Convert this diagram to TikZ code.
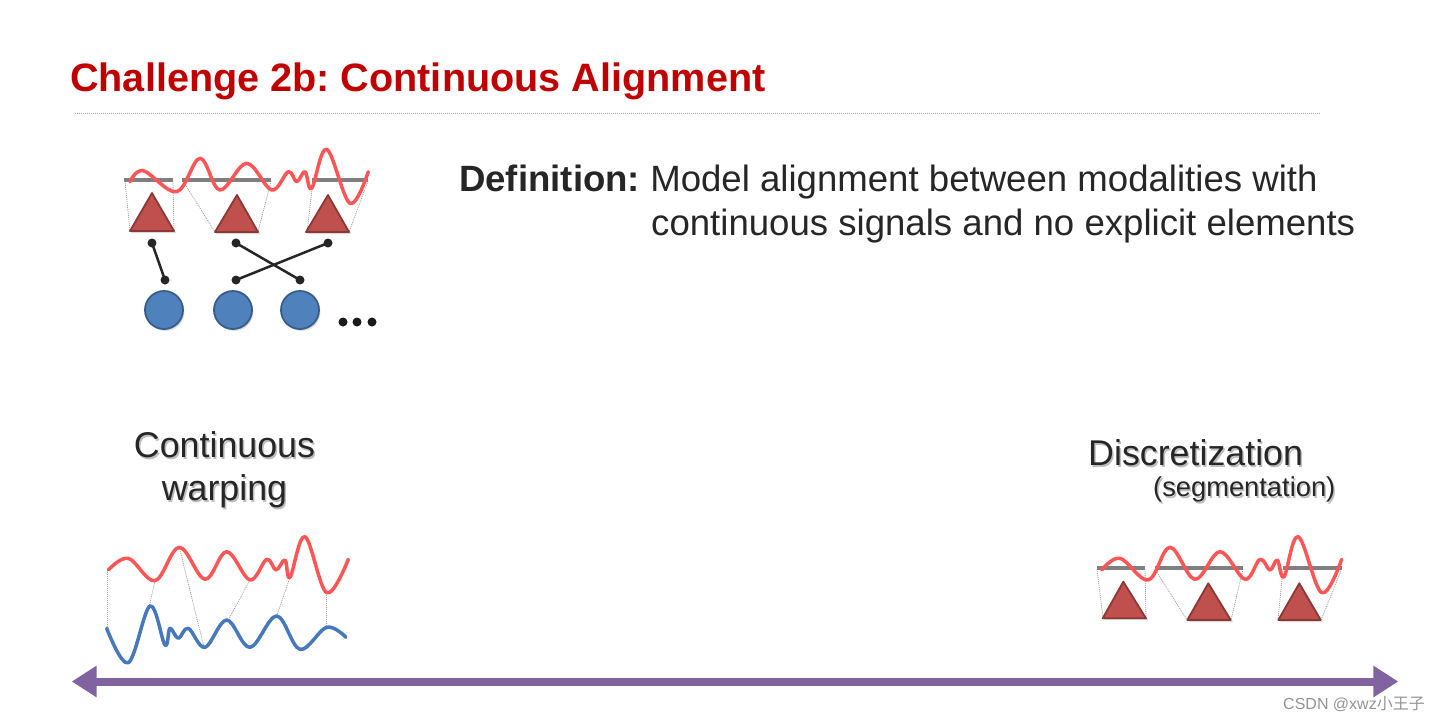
\documentclass[tikz,border=0pt]{standalone}
\usepackage{fontspec}
\setmainfont{Liberation Sans}
\newfontfamily\cjkfont{Noto Sans CJK SC}
\usetikzlibrary{arrows.meta,shadows}
\frenchspacing
\definecolor{titlered}{RGB}{192,0,0}
\definecolor{wavered}{RGB}{255,85,85}
\definecolor{waveblue}{RGB}{70,120,190}
\definecolor{trifill}{RGB}{192,80,77}
\definecolor{triline}{RGB}{140,56,54}
\definecolor{circfill}{RGB}{79,129,189}
\definecolor{circline}{RGB}{56,93,138}
\definecolor{barg}{RGB}{127,127,127}
\definecolor{arrowpurple}{RGB}{128,100,162}
\definecolor{textgray}{RGB}{38,38,38}
\definecolor{shadowgray}{RGB}{190,190,190}
\begin{document}
\begin{tikzpicture}[x=1pt,y=-1pt,
  wave/.style={line width=3.5pt, line cap=round, line join=round},
  redwave/.style={wave, draw=wavered},
  bluewave/.style={wave, draw=waveblue},
  segbar/.style={draw=barg, line width=4pt},
  guide/.style={draw=gray!75, line width=0.8pt, dash pattern=on 1pt off 1pt},
  tri/.style={fill=trifill, draw=triline, line width=1.8pt, line join=round},
  trishadow/.style={fill=black!15},
  mod/.style={circle, fill=circfill, draw=circline, line width=1.8pt, minimum size=38pt, inner sep=0pt,
    drop shadow={shadow xshift=1.5pt, shadow yshift=-2pt, fill=black!25}},
  link/.style={draw=black!85, line width=2.5pt},
  linkdot/.style={circle, fill=black!85, inner sep=0pt, minimum size=9pt},
  moredot/.style={circle, fill=black!90, inner sep=0pt, minimum size=9pt},
  bigtext/.style={font=\fontsize{35.8}{43.4}\selectfont, text=textgray, inner sep=0pt},
  bigshadow/.style={font=\fontsize{35.8}{43.4}\selectfont, text=shadowgray, inner sep=0pt},
  smalltext/.style={font=\fontsize{27.3}{32}\selectfont, text=textgray, inner sep=0pt, anchor=base west},
  smallshadow/.style={font=\fontsize{27.3}{32}\selectfont, text=shadowgray, inner sep=0pt, anchor=base west},
  deftext/.style={font=\fontsize{36.6}{43}\selectfont, text=textgray, inner sep=0pt, anchor=base west},
  titletext/.style={font=\fontsize{39.6}{48}\selectfont\bfseries, text=titlered, inner sep=0pt, anchor=base west},
  axis/.style={draw=arrowpurple, line width=8pt, {Triangle[length=25pt,width=30pt]}-{Triangle[length=25pt,width=30pt]}},
]
\useasboundingbox (0,0) rectangle (1441,721);

% ---------- title ----------
\node[titletext] (title) at (70,91) {Challenge 2b: Continuous Alignment};
\coordinate (sepL) at (75,113);
\coordinate (sepR) at (1320,113);
\draw[draw=gray!70, line width=1pt, dash pattern=on 1pt off 1pt] (sepL) -- (sepR);

% ---------- definition ----------
\node[deftext] (def1) at (459,191.5) {\textbf{Definition:} Model alignment between modalities with};
\node[deftext] (def2) at (651,235) {continuous signals and no explicit elements};

% ---------- top-left: segments, triangles, modalities ----------
\draw[guide] (125,181) -- (130,231);
\draw[guide] (173,181) -- (174,231);
\draw[guide] (183,181) -- (215,232);
\draw[guide] (271,181) -- (258,232);
\draw[guide] (313,181) -- (307,232);
\draw[guide] (368,181) -- (349,232);
\draw[segbar] (124,180) -- (173,180);
\draw[segbar] (182,180) -- (271,180);
\draw[segbar] (312,180) -- (368,180);
\draw[redwave] plot[smooth, tension=0.6] coordinates {(130,181.7) (143.3,170.7) (176.7,191.7) (200,158.3) (220,190) (246.7,163.3) (271.7,190) (288.3,171.7) (296.7,181.7) (305,171.7) (311.7,188.3) (326.7,149.3) (350,203.3) (368.3,171.7)};

\fill[trishadow] (131,233) -- (153,195) -- (176,233) -- cycle;
\fill[trishadow] (216,234) -- (238,197) -- (260,234) -- cycle;
\fill[trishadow] (307,234) -- (329,197) -- (351,234) -- cycle;
\draw[tri] (130,231) -- (152,193) -- (174,231) -- cycle;
\draw[tri] (215,232) -- (237,195) -- (258,232) -- cycle;
\draw[tri] (306,232) -- (328,195) -- (349,232) -- cycle;

\node[linkdot] (a1) at (152,243) {};
\node[linkdot] (b1) at (165,280) {};
\node[linkdot] (a2) at (236,243) {};
\node[linkdot] (b2) at (300,280) {};
\node[linkdot] (a3) at (328,243) {};
\node[linkdot] (b3) at (236,280) {};
\draw[link] (a1.center) -- (b1.center);
\draw[link] (a2.center) -- (b2.center);
\draw[link] (a3.center) -- (b3.center);

\node[mod] (m1) at (164,310) {};
\node[mod] (m2) at (233,310) {};
\node[mod] (m3) at (300,310) {};
\node[moredot] (d1) at (343,322) {};
\node[moredot] (d2) at (357,322) {};
\node[moredot] (d3) at (372,322) {};

% ---------- labels ----------
\node[bigshadow, anchor=base] (cwS) at (226,459.3) {Continuous};
\node[bigshadow, anchor=base] (wpS) at (226,502.7) {warping};
\node[bigtext, anchor=base] (cw) at (224.5,457.3) {Continuous};
\node[bigtext, anchor=base] (wp) at (224.5,500.7) {warping};

\node[bigshadow, anchor=base west] (dzS) at (1089.5,467) {Discretization};
\node[bigtext, anchor=base west] (dz) at (1088,465) {Discretization};
\node[smallshadow] (sgS) at (1154.5,498) {(segmentation)};
\node[smalltext] (sg) at (1153,496) {(segmentation)};

% ---------- bottom-left: continuous warping ----------
\draw[guide] (107,570) -- (107,628);
\draw[guide] (155,580.7) -- (149.3,606);
\draw[guide] (179.3,547.3) -- (204,647.3);
\draw[guide] (250,580) -- (228.3,620);
\draw[guide] (290,577.3) -- (276.7,616);
\draw[guide] (326.7,592.7) -- (326.7,627.3);
\draw[redwave] plot[smooth, tension=0.6] coordinates {(108.3,570) (128.3,558.3) (155,580.7) (179.3,547.3) (205,579.3) (226.7,551.7) (250,580) (266.7,559.3) (276,570) (285,560) (290,577.3) (305,536.7) (326.7,592.7) (348.3,559.3)};
\draw[bluewave] plot[smooth, tension=0.6] coordinates {(106.7,628.3) (128.3,662.7) (150,606) (165,645) (170,628.3) (178.3,638.3) (188.3,628.3) (205,647.3) (226.7,620) (250,647.3) (276.7,616) (300,649.3) (326.7,627.3) (346,637.3)};

% ---------- bottom-right: discretization ----------
\draw[guide] (1097,569) -- (1103,618);
\draw[guide] (1145,569) -- (1146,618);
\draw[guide] (1155,569) -- (1187,620);
\draw[guide] (1243,569) -- (1231,620);
\draw[guide] (1283,569) -- (1278,620);
\draw[guide] (1341.7,569) -- (1321,620);
\draw[segbar] (1096.7,568.3) -- (1145,568.3);
\draw[segbar] (1155,568.3) -- (1243.3,568.3);
\draw[segbar] (1283.3,568.3) -- (1341.7,568.3);
\draw[redwave] plot[smooth, tension=0.6] coordinates {(1101.7,570) (1120,558.3) (1148.3,580) (1170,547.3) (1195,579.3) (1220,551.7) (1245,579.3) (1260,559.3) (1270,570) (1277.3,560) (1284,576.7) (1298.3,536.7) (1321.7,592.7) (1341.7,559.3)};
\fill[trishadow] (1104,620) -- (1125,584) -- (1148,620) -- cycle;
\fill[trishadow] (1189,622) -- (1210,585) -- (1233,622) -- cycle;
\fill[trishadow] (1280,622) -- (1301,585) -- (1323,622) -- cycle;
\draw[tri] (1102.7,618.3) -- (1123.3,581.7) -- (1146,618.3) -- cycle;
\draw[tri] (1187.3,620) -- (1208.3,583.3) -- (1230.7,620) -- cycle;
\draw[tri] (1278.3,620) -- (1299.3,583.3) -- (1320.7,620) -- cycle;

% ---------- axis ----------
\coordinate (axL) at (71.7,681.5);
\coordinate (axR) at (1398.3,681.5);
\draw[axis] (axL) -- (axR);

% ---------- watermark ----------
\node[font=\fontsize{16}{18}\selectfont, text=gray!85, inner sep=0pt, anchor=base east] (wm) at (1425,709) {CSDN @xwz{\cjkfont 小王子}};
\end{tikzpicture}
\end{document}
